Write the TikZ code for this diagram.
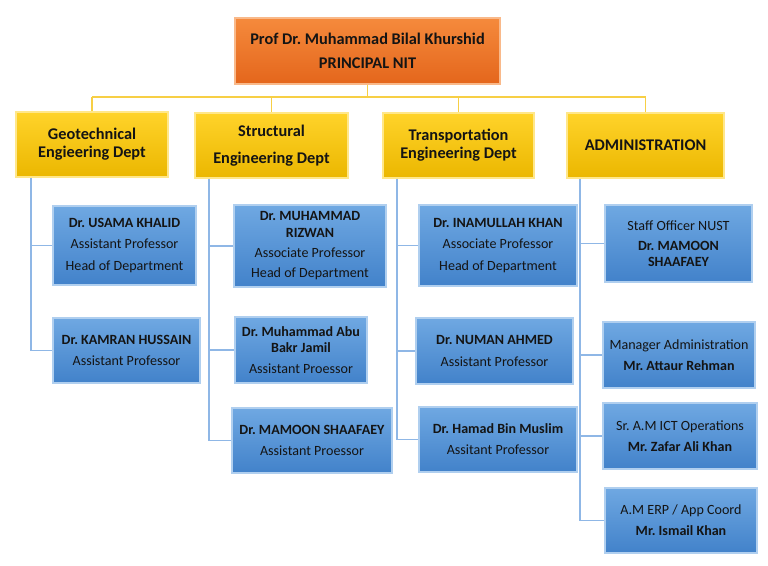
\documentclass[tikz,border=0pt]{standalone}
\usepackage{fontspec}
\setmainfont{Carlito}
\frenchspacing
\usetikzlibrary{positioning}
\definecolor{orgtop}{HTML}{F58A3C}
\definecolor{orgbot}{HTML}{E4661C}
\definecolor{yeltop}{HTML}{FFD32A}
\definecolor{yelbot}{HTML}{EBB700}
\definecolor{blutop}{HTML}{6FA8E2}
\definecolor{blubot}{HTML}{4282CA}
\definecolor{yline}{HTML}{F7CF45}
\definecolor{bline}{HTML}{8FB7E6}
\definecolor{ink}{HTML}{141414}
\begin{document}
\begin{tikzpicture}[x=0.025cm,y=-0.025cm,
  boxsize/.style 2 args={minimum width=#1*0.025cm,minimum height=#2*0.025cm},
  card/.style={rectangle,inner sep=1pt,align=center,text=ink},
  headbox/.style={card,top color=orgtop,bottom color=orgbot,draw=orgtop!60!white,line width=0.8pt,
    font=\fontsize{11.6}{17.5}\selectfont\bfseries},
  deptbox/.style={card,top color=yeltop,bottom color=yelbot,draw=yeltop!55!white,line width=0.8pt,
    font=\fontsize{11.6}{13}\selectfont\bfseries},
  staffbox/.style={card,top color=blutop,bottom color=blubot,draw=blutop!55!white,line width=0.8pt,
    font=\fontsize{10}{15}\selectfont},
  ylink/.style={draw=yline,line width=0.9pt},
  blink/.style={draw=bline,line width=0.9pt}]
\useasboundingbox (0,0) rectangle (768,565);

% principal on top
\node[headbox,boxsize={265}{66}] (principal) at (367.5,51)
  {Prof Dr. Muhammad Bilal Khurshid\\PRINCIPAL NIT};

% four departments
\node[deptbox,boxsize={152}{65}] (geo) at (92,144.5) {Geotechnical\\Engieering Dept};
\node[deptbox,boxsize={153}{65},font=\fontsize{11.6}{19}\selectfont\bfseries] (struct) at (271.5,145.5)
  {Structural\\Engineering Dept};
\node[deptbox,boxsize={151}{65}] (transp) at (458.5,145.5) {Transportation\\Engineering Dept};
\node[deptbox,boxsize={157}{65}] (admin) at (645.5,145.5) {ADMINISTRATION};

% geotechnical staff
\node[staffbox,boxsize={143}{79}] (geoA) at (124.5,245.5)
  {\textbf{Dr. USAMA KHALID}\\Assistant Professor\\Head of Department};
\node[staffbox,boxsize={147}{65}] (geoB) at (126.5,350.5)
  {\textbf{Dr. KAMRAN HUSSAIN}\\Assistant Professor};

% structural staff
\node[staffbox,boxsize={152}{82},font=\fontsize{10}{14.5}\selectfont] (strA) at (310,246)
  {\textbf{Dr. MUHAMMAD}\\[-3pt]\textbf{RIZWAN}\\Associate Professor\\Head of Department};
\node[staffbox,boxsize={132}{66},font=\fontsize{10}{14.5}\selectfont] (strB) at (301,350)
  {\textbf{Dr. Muhammad Abu}\\[-3pt]\textbf{Bakr Jamil}\\Assistant Proessor};
\node[staffbox,boxsize={160}{65}] (strC) at (312,440.5)
  {\textbf{Dr. MAMOON SHAAFAEY}\\Assistant Proessor};

% transportation staff
\node[staffbox,boxsize={158}{81}] (trnA) at (498,245.5)
  {\textbf{Dr. INAMULLAH KHAN}\\Associate Professor\\Head of Department};
\node[staffbox,boxsize={157}{66}] (trnB) at (494.5,351)
  {\textbf{Dr. NUMAN AHMED}\\Assistant Professor};
\node[staffbox,boxsize={158}{65}] (trnC) at (498,439.5)
  {\textbf{Dr. Hamad Bin Muslim}\\Assitant Professor};

% administration staff
\node[staffbox,boxsize={147}{77},font=\fontsize{10}{14.5}\selectfont] (admA) at (678.5,243.5)
  {Staff Officer NUST\\\textbf{Dr. MAMOON}\\[-3pt]\textbf{SHAAFAEY}};
\node[staffbox,boxsize={152}{66}] (admB) at (679,355)
  {Manager Administration\\\textbf{Mr. Attaur Rehman}};
\node[staffbox,boxsize={154}{66}] (admC) at (680,436)
  {Sr. A.M ICT Operations\\\textbf{Mr. Zafar Ali Khan}};
\node[staffbox,boxsize={152}{65}] (admD) at (681,520.5)
  {A.M ERP / App Coord\\\textbf{Mr. Ismail Khan}};

% yellow bus from principal to departments
\coordinate (bus) at (367,97);
\draw[ylink] (principal.south) -- (principal.south |- bus);
\draw[ylink] (geo.north |- bus) -- (admin.north |- bus);
\foreach \d in {geo,struct,transp,admin}
  \draw[ylink] (\d.north |- bus) -- (\d.north);

% blue spines down each column
\coordinate (geoline) at (31,0);
\coordinate (strline) at (209,0);
\coordinate (trnline) at (397,0);
\coordinate (admline) at (580,0);
\draw[blink] (geoline |- geo.south) |- (geoB.west);
\draw[blink] (geoline |- geoA.west) -- (geoA.west);
\draw[blink] (strline |- struct.south) |- (strC.west);
\foreach \s in {strA,strB}
  \draw[blink] (strline |- \s.west) -- (\s.west);
\draw[blink] (trnline |- transp.south) |- (trnC.west);
\foreach \s in {trnA,trnB}
  \draw[blink] (trnline |- \s.west) -- (\s.west);
\draw[blink] (admline |- admin.south) |- (admD.west);
\foreach \s in {admA,admB,admC}
  \draw[blink] (admline |- \s.west) -- (\s.west);
\end{tikzpicture}
\end{document}
